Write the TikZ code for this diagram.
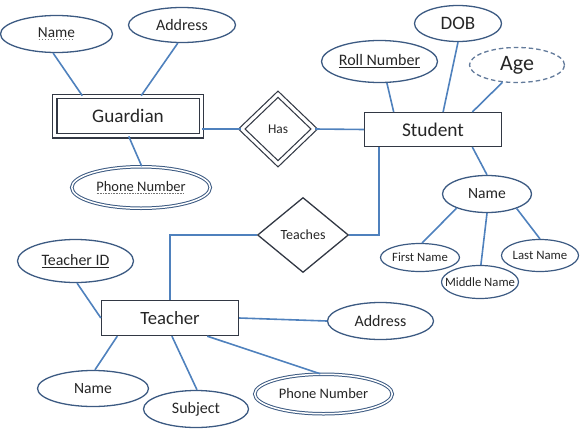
\documentclass[tikz,border=0pt]{standalone}
\usepackage{fontspec}
\setmainfont{Carlito}
\usetikzlibrary{shapes.geometric}
\definecolor{linkblue}{RGB}{79,129,189}
\definecolor{shapeblue}{RGB}{60,90,130}
\definecolor{boxgray}{RGB}{50,56,68}
\newcommand{\fsz}[1]{\fontsize{#1}{#1}\selectfont}
% broken underline: #1 = period, #2 = dash length
\newcommand{\brokenul}[3]{\setbox0\hbox{#3}\rlap{\copy0}\raisebox{-2.5pt}{\hbox to \wd0{\color{black!55}\leaders\hbox to #1{\hss\rule{#2}{0.8pt}\hss}\hfill}}}
\tikzset{attr/.style = {ellipse, draw=shapeblue, line width=1.3pt, inner sep=0pt, inner xsep=-3pt, text=black!85},
  multi/.style = {attr, line width=1pt, double=white, double distance=1.5pt},
  entity/.style = {rectangle, draw=boxgray, line width=1.3pt, inner sep=0pt, text=black!85},
  rel/.style = {diamond, draw=boxgray, line width=1.2pt, inner sep=0pt, shape aspect=1, text=black!85},
  link/.style = {linkblue, line width=1.6pt}}

\begin{document}
\begin{tikzpicture}[x=1pt,y=-1pt]
    \useasboundingbox (0,0) rectangle (580,434);
    % entities and relationships
    \node[entity, line width=1.2pt, double=white, double distance=3.1pt, minimum width=146.5pt, minimum height=39.5pt] (guardian) at (128,116) {\fsz{19.2}Guardian};
    \node[entity, minimum width=136.7pt, minimum height=33.7pt] (student) at (433,129.5) {\fsz{19.4}Student};
    \node[entity, minimum width=137pt, minimum height=35pt] (teacher) at (170,318) {\fsz{18.7}Teacher};
    \node[rel, double=white, double distance=3.2pt, minimum width=73pt, minimum height=70pt] (has) at (278,129) {\fsz{13.4}Has};
    \node[rel, line width=1.3pt, minimum width=91pt, minimum height=75pt] (teaches) at (303,235) {\fsz{14}Teaches};
    % guardian attributes
    \node[attr, minimum width=112pt, minimum height=37pt] (gname) at (56.5,34) {\fsz{15.3}\brokenul{3pt}{1.8pt}{Name}};
    \node[attr, minimum width=107pt, minimum height=35pt] (gaddr) at (182,25) {\fsz{16}Address};
    \node[multi, minimum width=138.5pt, minimum height=41.5pt] (gphone) at (141,187.5) {\fsz{14.5}\brokenul{1.6pt}{0.9pt}{Phone Number}};
    % student attributes
    \node[attr, minimum width=116pt, minimum height=42pt] (roll) at (379.5,61.5) {\fsz{16}\underline{Roll Number}};
    \node[attr, minimum width=87pt, minimum height=36pt] (dob) at (458,23.5) {\fsz{19}DOB};
    \node[attr, draw=shapeblue!80, dash pattern=on 4.5pt off 3pt, minimum width=95pt, minimum height=35pt] (age) at (517,65) {\fsz{22}Age};
    \node[attr, minimum width=89pt, minimum height=37pt] (sname) at (487,194) {\fsz{15.6}Name};
    \node[attr, line width=1.2pt, minimum width=79pt, minimum height=28pt] (first) at (420,257.5) {\fsz{12.7}First Name};
    \node[attr, line width=1.2pt, inner xsep=-10pt, minimum width=77pt, minimum height=33pt] (middle) at (480,282) {\fsz{12.7}Middle Name};
    \node[attr, line width=1.2pt, minimum width=77pt, minimum height=32pt] (last) at (540,255.5) {\fsz{12.8}Last Name};
    % teacher attributes
    \node[attr, minimum width=116pt, minimum height=43pt] (tid) at (75.5,261) {\fsz{15.9}\underline{Teacher ID}};
    \node[attr, minimum width=111pt, minimum height=36pt] (tname) at (93,388.5) {\fsz{15.6}Name};
    \node[attr, minimum width=105pt, minimum height=37pt] (subj) at (196,409) {\fsz{16}Subject};
    \node[multi, minimum width=137.5pt, minimum height=39.5pt] (tphone) at (323.5,394) {\fsz{14.5}Phone Number};
    \node[attr, minimum width=106pt, minimum height=37pt] (taddr) at (380.5,321) {\fsz{16}Address};
    % connectors
    \draw[link] (gname.260) -- (guardian.156);
    \draw[link] (gaddr.257) -- (guardian.57);
    \draw[link] (guardian.272) -- (gphone.88);
    \draw[link] (has.west) -- (has.west -| guardian.east);
    \draw[link] (has.east) -- (student.west);
    \draw[link] (roll.289) -- (student.156);
    \draw[link] (dob.270) -- (student.60);
    \draw[link] (age.230) -- (student.24);
    \draw[link] (student.336) -- (sname.90);
    \draw[link] (sname.205) -- (first.82);
    \draw[link] (sname.270) -- (middle.87);
    \draw[link] (sname.334) -- (last.90);
    \draw[link] (student.198) |- (teaches.east);
    \draw[link] (teaches.west) -| (teacher.north);
    \draw[link] (tid.274) -- (teacher.west);
    \draw[link] (teacher.199) -- (tname.84);
    \draw[link] (teacher.276) -- (subj.87);
    \draw[link] (teacher.334) -- (tphone.99);
    \draw[link] (teacher.east) -- (taddr.west);
\end{tikzpicture}
\end{document}
